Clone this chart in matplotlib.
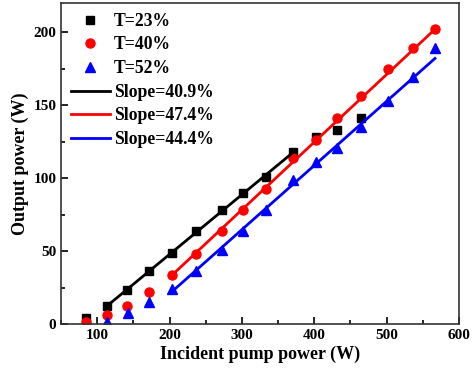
import matplotlib
matplotlib.use("Agg")
import matplotlib.pyplot as plt
from matplotlib.ticker import MultipleLocator

plt.rcParams['font.family'] = ['Liberation Serif', 'DejaVu Serif']
plt.rcParams['font.weight'] = 'bold'

# Data: T=23%
x23 = [85, 114, 141, 172, 204, 236, 272, 301, 333, 371, 402, 432, 465]
y23 = [3.9, 12.6, 23, 36.4, 49, 63.4, 78, 89.7, 101, 118, 128, 132.7, 141]
# T=40%
x40 = [85, 114, 141, 172, 204, 236, 272, 301, 333, 371, 402, 432, 465, 502, 536, 567]
y40 = [1.5, 5.9, 12.6, 22.2, 33.8, 47.7, 63.4, 77.8, 92.6, 113.7, 126.3, 141, 156, 174.5, 189.4, 202]
# T=52%
x52 = [113, 142, 172, 204, 236, 272, 302, 333, 371, 402, 432, 465, 502, 536, 567]
y52 = [1.5, 7.4, 15.2, 24, 36.4, 50.5, 63.6, 78.4, 98.5, 111, 120.7, 135, 153, 169, 189.4]

# Linear fit lines (endpoints)
fit23_x = [114, 371]
fit23_y = [12.6, 117.7]
fit40_x = [204, 567]
fit40_y = [33.8, 202]
fit52_x = [204, 567]
fit52_y = [22.5, 182]

labels_pts = ['T=23%', 'T=40%', 'T=52%']
labels_fit = ['Slope=40.9%', 'Slope=47.4%', 'Slope=44.4%']

fig = plt.figure(figsize=(4.74, 3.72), dpi=100)
ax = fig.add_axes([0.129, 0.129, 0.839, 0.863])

h1, = ax.plot(x23, y23, 's', color='black', ms=5.5, ls='none', label=labels_pts[0])
h2, = ax.plot(x40, y40, 'o', color='red', ms=6.5, ls='none', label=labels_pts[1])
h3, = ax.plot(x52, y52, '^', color='blue', ms=6.5, ls='none', label=labels_pts[2])
l1, = ax.plot(fit23_x, fit23_y, '-', color='black', lw=2, label=labels_fit[0])
l2, = ax.plot(fit40_x, fit40_y, '-', color='red', lw=2, label=labels_fit[1])
l3, = ax.plot(fit52_x, fit52_y, '-', color='blue', lw=2, label=labels_fit[2])

ax.set_xlim(50, 600)
ax.set_ylim(0, 220)
ax.xaxis.set_major_locator(MultipleLocator(100))
ax.xaxis.set_minor_locator(MultipleLocator(50))
ax.yaxis.set_major_locator(MultipleLocator(50))
ax.yaxis.set_minor_locator(MultipleLocator(25))
ax.tick_params(which='both', direction='in', labelsize=11, width=1.2)
ax.tick_params(which='major', length=5)
ax.tick_params(which='minor', length=3)
for s in ax.spines.values():
    s.set_linewidth(1.2)
    s.set_color('#333333')

ax.set_xlabel('Incident pump power (W)', fontsize=13, fontweight='bold', labelpad=3)
ax.set_ylabel('Output power (W)', fontsize=13, fontweight='bold', labelpad=3)

ax.legend(handles=[h1, h2, h3, l1, l2, l3], loc='upper left', frameon=False,
          prop={'family': 'Liberation Serif', 'weight': 'bold', 'size': 12.7},
          handlelength=2.2, labelspacing=0.38, borderaxespad=0.3, handletextpad=0.25,
          borderpad=0.25)

fig.savefig('out.png', dpi=100)
